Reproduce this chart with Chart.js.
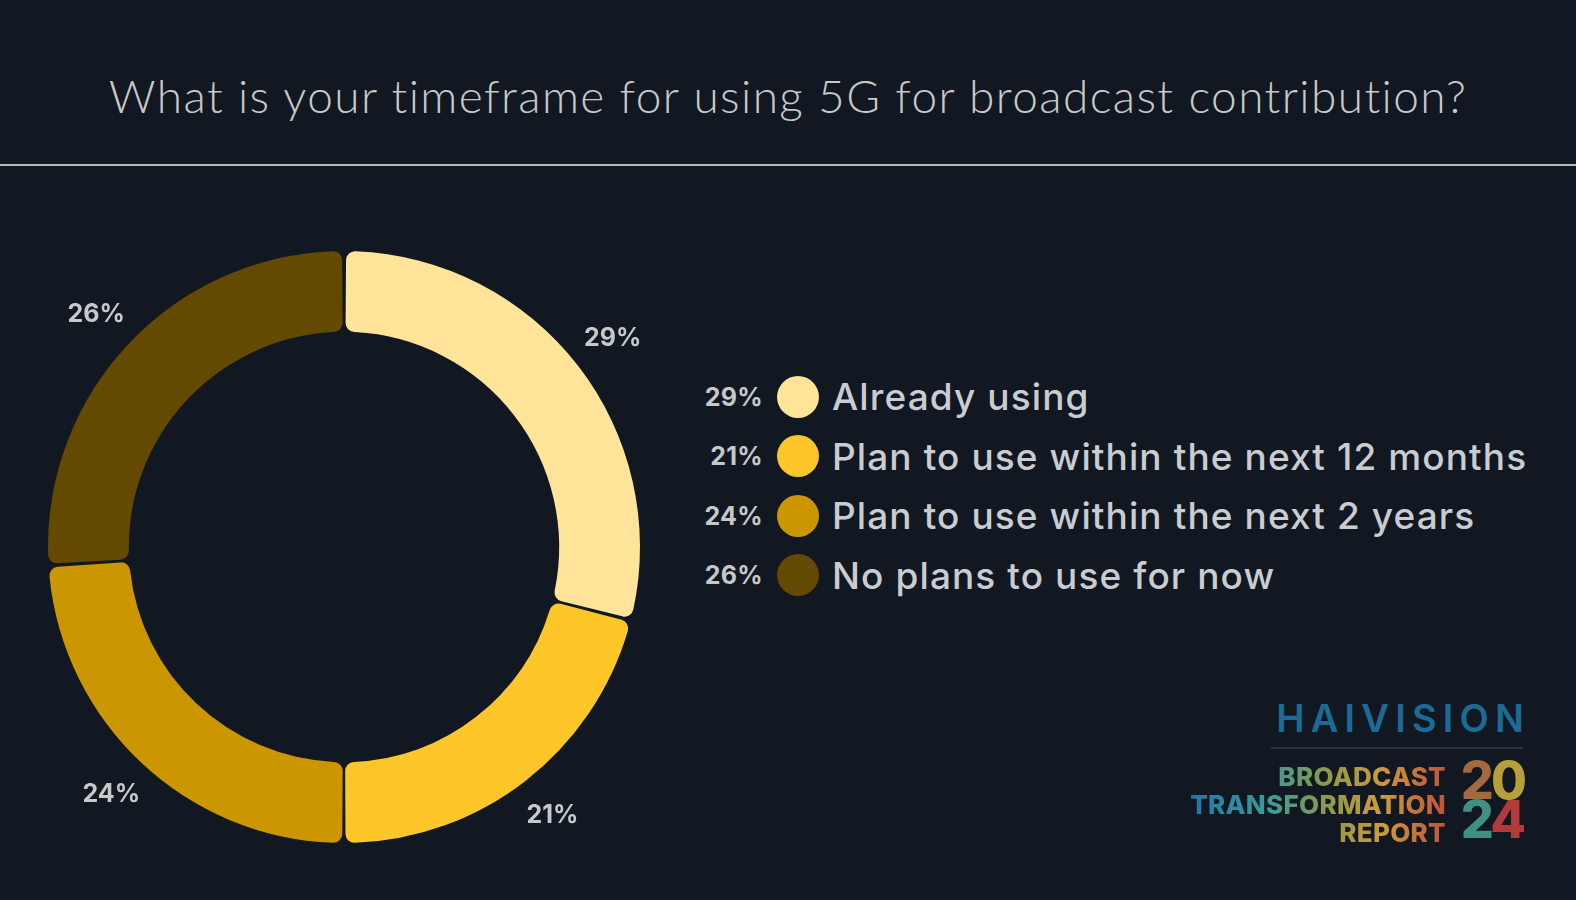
<!DOCTYPE html>
<html>
<head>
<meta charset="utf-8">
<script src="https://cdn.jsdelivr.net/npm/chart.js@4.4.1/dist/chart.umd.min.js"></script>
<style>
  html, body { margin: 0; padding: 0; }
  body {
    width: 1576px; height: 900px; background: #111821; position: relative;
    overflow: hidden; font-family: Inter, "Noto Sans", sans-serif;
  }
  #title {
    position: absolute; left: 0; top: 68px; width: 1576px; text-align: center;
    font-family: Lato, Inter, sans-serif; font-weight: 300; font-size: 46px;
    color: #c9c9c9; letter-spacing: 1.4px;
  }
  #rule { position: absolute; left: 0; top: 164px; width: 1576px; height: 2px; background: #b9b9b9; }
  #chartBox { position: absolute; left: 2px; top: 182px; width: 684px; height: 730px; }
  #legend { position: absolute; left: 695px; top: 367px; }
  .row { display: flex; align-items: center; height: 59.5px; }
  .pct { width: 68px; text-align: right; font-weight: 700; font-size: 25px; color: #c6c8ca; letter-spacing: 0.3px; }
  .dot { width: 42px; height: 42px; border-radius: 50%; margin: 0 13px 0 14px; }
  .lbl { font-weight: 500; font-size: 37px; color: #c9ccd0; white-space: nowrap; letter-spacing: 1.1px; }
  #logo { position: absolute; left: 1166px; top: 695px; width: 360px; height: 160px; }
  #hai {
    position: absolute; right: 2px; top: 0; font-weight: 600; font-size: 38px;
    letter-spacing: 6.2px; color: #1c6b97; margin-right: -6px;
  }
  #hairule { position: absolute; left: 105px; top: 52px; width: 252px; height: 2px; background: #27313d; }
  #btr {
    position: absolute; right: 80px; top: 68px; text-align: right; font-weight: 800;
    font-size: 26px; line-height: 28px; letter-spacing: 0.3px;
    background: linear-gradient(90deg, #1f78a8 0%, #3a9a9a 30%, #8f9a48 55%, #cf9a3a 75%, #c0523a 100%);
    -webkit-background-clip: text; background-clip: text; color: transparent;
  }
  #yr { position: absolute; right: 2px; top: 66px; font-weight: 800; font-size: 52px; line-height: 39px; letter-spacing: -3px; }
</style>
</head>
<body>
<div id="title">What is your timeframe for using 5G for broadcast contribution?</div>
<div id="rule"></div>
<div id="chartBox"><canvas id="donut"></canvas></div>
<div id="legend"></div>
<div id="logo">
  <div id="hai">HAIVISION</div>
  <div id="hairule"></div>
  <div id="btr">BROADCAST<br>TRANSFORMATION<br>REPORT</div>
  <div id="yr"><span style="color:#a26a3e">2</span><span style="color:#b7a03a">0</span><br><span style="color:#3f8f86">2</span><span style="color:#b23a3a">4</span></div>
</div>
<script>
const categories = [
  "Already using",
  "Plan to use within the next 12 months",
  "Plan to use within the next 2 years",
  "No plans to use for now"
];
const shares = [29, 21, 24, 26];
const sliceColors = ["#FFE49A", "#FFC629", "#CC9600", "#634A00"];

// legend rows
const legend = document.getElementById("legend");
categories.forEach((name, i) => {
  const row = document.createElement("div");
  row.className = "row";
  row.innerHTML =
    '<span class="pct">' + shares[i] + '%</span>' +
    '<span class="dot" style="background:' + sliceColors[i] + '"></span>' +
    '<span class="lbl">' + name + '</span>';
  legend.appendChild(row);
});

// percent labels just outside the ring
const outsideLabels = {
  id: "outsideLabels",
  afterDatasetsDraw(chart) {
    const ctx = chart.ctx;
    const arcs = chart.getDatasetMeta(0).data;
    ctx.save();
    ctx.font = "700 25px Inter, sans-serif";
    ctx.fillStyle = "#c6c8ca";
    ctx.textAlign = "center";
    ctx.textBaseline = "middle";
    arcs.forEach((arc, i) => {
      const p = arc.getProps(["x", "y", "startAngle", "endAngle", "outerRadius"], true);
      const mid = (p.startAngle + p.endAngle) / 2;
      const r = p.outerRadius + 46;
      ctx.fillText(shares[i] + "%", p.x + Math.cos(mid) * r, p.y + Math.sin(mid) * r);
    });
    ctx.restore();
  }
};

new Chart(document.getElementById("donut").getContext("2d"), {
  type: "doughnut",
  data: {
    labels: categories,
    datasets: [{
      data: shares,
      backgroundColor: sliceColors,
      borderWidth: 0,
      borderRadius: 9,
      spacing: 4
    }]
  },
  options: {
    responsive: true,
    maintainAspectRatio: false,
    animation: false,
    cutout: "72.5%",
    layout: { padding: { left: 46, right: 46, top: 69, bottom: 69 } },
    plugins: {
      legend: { display: false },
      tooltip: { enabled: false }
    }
  },
  plugins: [outsideLabels]
});
</script>
</body>
</html>
